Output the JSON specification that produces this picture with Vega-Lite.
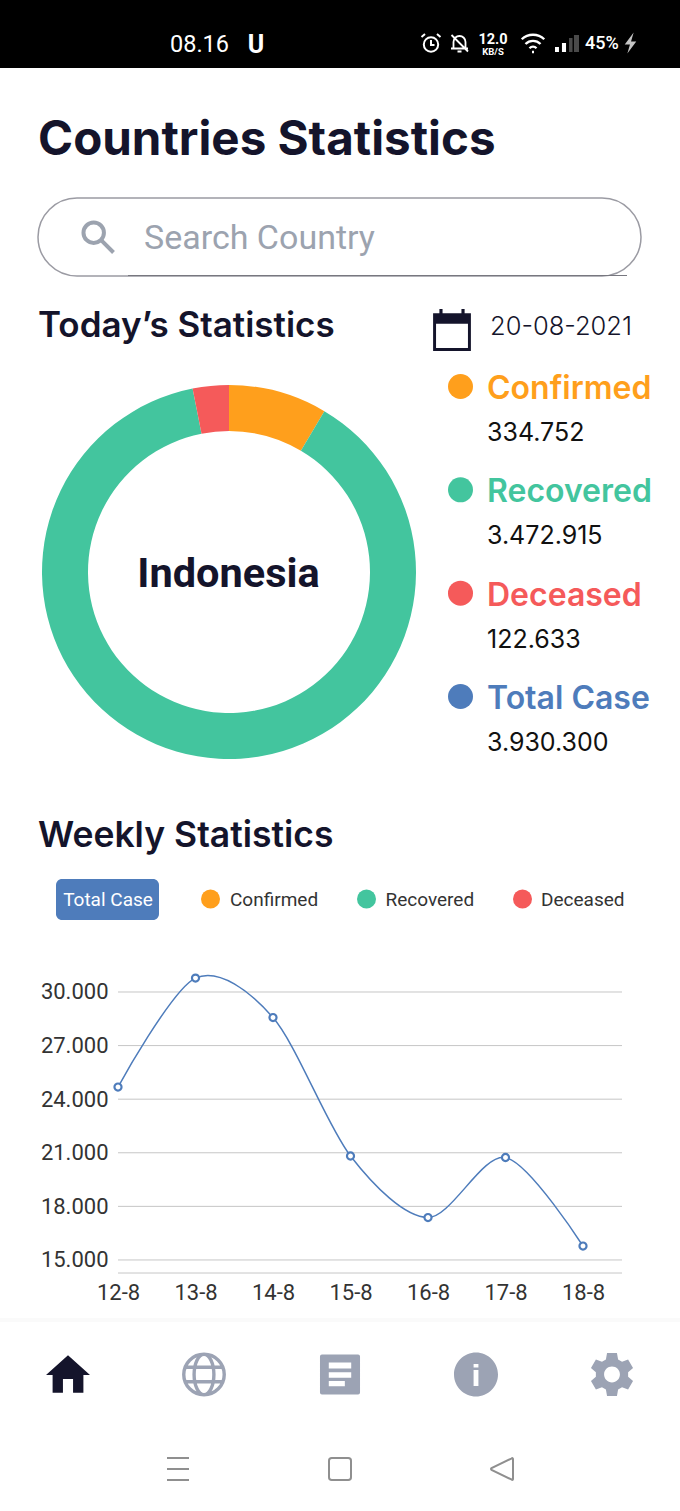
{
  "$schema": "https://vega.github.io/schema/vega-lite/v6.json",
  "width": 680,
  "height": 1511,
  "autosize": {"type": "fit", "contains": "padding"},
  "padding": 0,
  "background": "white",
  "datasets": {
    "stats": [
      {"status": "Confirmed", "count": 334752, "shown": "334.752", "rank": 1},
      {"status": "Recovered", "count": 3472915, "shown": "3.472.915", "rank": 2},
      {"status": "Deceased", "count": 122633, "shown": "122.633", "rank": 3},
      {"status": "Total Case", "count": 3930300, "shown": "3.930.300", "rank": 4}
    ],
    "weekly": [
      {"day": "12-8", "cases": 24680},
      {"day": "13-8", "cases": 30780},
      {"day": "14-8", "cases": 28570},
      {"day": "15-8", "cases": 20820},
      {"day": "16-8", "cases": 17376},
      {"day": "17-8", "cases": 20735},
      {"day": "18-8", "cases": 15780}
    ],
    "gridTicks": [
      {"tick": 14270}, {"tick": 15000}, {"tick": 18000}, {"tick": 21000},
      {"tick": 24000}, {"tick": 27000}, {"tick": 30000}
    ],
    "tabs": [{"tab": "Confirmed"}, {"tab": "Recovered"}, {"tab": "Deceased"}]
  },
  "layer": [
    {
      "data": {"values": [{"part": "status bar"}]},
      "mark": {"type": "rect", "color": "#000000"},
      "encoding": {
        "x": {"datum": 0, "type": "quantitative", "axis": null, "scale": {"domain": [0, 1], "range": [0, 680]}},
        "x2": {"datum": 1},
        "y": {"datum": 0, "type": "quantitative", "axis": null, "scale": {"domain": [0, 1], "range": [0, 68]}},
        "y2": {"datum": 1}
      }
    },
    {
      "data": {"values": [{"part": "nav shadow"}]},
      "mark": {"type": "rect", "color": "#fafafa"},
      "encoding": {
        "x": {"datum": 0, "type": "quantitative", "axis": null, "scale": {"domain": [0, 1], "range": [0, 680]}},
        "x2": {"datum": 1},
        "y": {"datum": 0, "type": "quantitative", "axis": null, "scale": {"domain": [0, 1], "range": [1318, 1322]}},
        "y2": {"datum": 1}
      }
    },
    {
      "data": {"values": [{"part": "search box"}]},
      "mark": {"type": "rect", "fill": "transparent", "stroke": "#9b9ba3", "strokeWidth": 1.5, "cornerRadius": 39},
      "encoding": {
        "x": {"datum": 0, "type": "quantitative", "axis": null, "scale": {"domain": [0, 1], "range": [38, 641]}},
        "x2": {"datum": 1},
        "y": {"datum": 0, "type": "quantitative", "axis": null, "scale": {"domain": [0, 1], "range": [198, 276]}},
        "y2": {"datum": 1}
      }
    },
    {
      "data": {"values": [{"part": "search underline"}]},
      "mark": {"type": "rule", "color": "#77777f", "strokeWidth": 1},
      "encoding": {
        "x": {"datum": 0, "type": "quantitative", "axis": null, "scale": {"domain": [0, 1], "range": [128, 627]}},
        "x2": {"datum": 1},
        "y": {"datum": 0, "type": "quantitative", "axis": null, "scale": {"domain": [0, 1], "range": [275.5, 275.5]}}
      }
    },
    {
      "data": {"values": [{"label": "08.16"}]},
      "mark": {"type": "text", "font": "Roboto", "fontSize": 23.5, "align": "left", "baseline": "middle", "color": "#ffffff"},
      "encoding": {
        "x": {"field": "label", "type": "nominal", "axis": null, "scale": {"type": "point", "range": [170, 170]}},
        "y": {"field": "label", "type": "nominal", "axis": null, "scale": {"type": "point", "range": [45, 45]}},
        "text": {"field": "label"}
      }
    },
    {
      "data": {"values": [{"label": "U"}]},
      "mark": {"type": "text", "font": "Roboto", "fontSize": 25, "fontWeight": 700, "align": "center", "baseline": "middle", "color": "#ffffff"},
      "encoding": {
        "x": {"field": "label", "type": "nominal", "axis": null, "scale": {"type": "point", "range": [256, 256]}},
        "y": {"field": "label", "type": "nominal", "axis": null, "scale": {"type": "point", "range": [45, 45]}},
        "text": {"field": "label"}
      }
    },
    {
      "data": {"values": [{"icon": "alarm"}]},
      "mark": {"type": "point", "filled": false, "color": "#ffffff", "strokeWidth": 2, "opacity": 1, "size": 400, "shape": "M-0.72 0.1 A0.72 0.72 0 1 1 0.72 0.1 A0.72 0.72 0 1 1 -0.72 0.1 Z M0 -0.35 V0.15 H0.35 M-0.95 -0.65 L-0.6 -0.95 M0.95 -0.65 L0.6 -0.95"},
      "encoding": {
        "x": {"field": "icon", "type": "nominal", "axis": null, "scale": {"type": "point", "range": [431, 431]}},
        "y": {"field": "icon", "type": "nominal", "axis": null, "scale": {"type": "point", "range": [43.5, 43.5]}}
      }
    },
    {
      "data": {"values": [{"icon": "bell"}]},
      "mark": {"type": "point", "filled": false, "color": "#ffffff", "strokeWidth": 1.8, "opacity": 1, "size": 400, "shape": "M-0.6 0.5 V-0.1 A0.6 0.6 0 0 1 0.6 -0.1 V0.5 M-0.85 0.55 H0.85 M-0.2 0.85 H0.2 M-0.8 -0.8 L0.85 0.85"},
      "encoding": {
        "x": {"field": "icon", "type": "nominal", "axis": null, "scale": {"type": "point", "range": [459.5, 459.5]}},
        "y": {"field": "icon", "type": "nominal", "axis": null, "scale": {"type": "point", "range": [43, 43]}}
      }
    },
    {
      "data": {"values": [{"label": "12.0"}]},
      "mark": {"type": "text", "font": "Roboto", "fontSize": 14.5, "fontWeight": 700, "align": "center", "baseline": "middle", "color": "#ffffff"},
      "encoding": {
        "x": {"field": "label", "type": "nominal", "axis": null, "scale": {"type": "point", "range": [493, 493]}},
        "y": {"field": "label", "type": "nominal", "axis": null, "scale": {"type": "point", "range": [39.5, 39.5]}},
        "text": {"field": "label"}
      }
    },
    {
      "data": {"values": [{"label": "KB/S"}]},
      "mark": {"type": "text", "font": "Roboto", "fontSize": 9.5, "fontWeight": 700, "align": "center", "baseline": "middle", "color": "#ffffff"},
      "encoding": {
        "x": {"field": "label", "type": "nominal", "axis": null, "scale": {"type": "point", "range": [493, 493]}},
        "y": {"field": "label", "type": "nominal", "axis": null, "scale": {"type": "point", "range": [51.5, 51.5]}},
        "text": {"field": "label"}
      }
    },
    {
      "data": {"values": [{"icon": "wifi"}]},
      "mark": {"type": "point", "filled": false, "color": "#ffffff", "strokeWidth": 2.4, "opacity": 1, "size": 625, "shape": "M-0.9 -0.3 A1.3 1.3 0 0 1 0.9 -0.3 M-0.6 0.08 A0.85 0.85 0 0 1 0.6 0.08 M-0.28 0.42 A0.4 0.4 0 0 1 0.28 0.42 M-0.08 0.72 H0.08"},
      "encoding": {
        "x": {"field": "icon", "type": "nominal", "axis": null, "scale": {"type": "point", "range": [533, 533]}},
        "y": {"field": "icon", "type": "nominal", "axis": null, "scale": {"type": "point", "range": [43, 43]}}
      }
    },
    {
      "data": {"values": [{"icon": "signal"}]},
      "mark": {"type": "point", "filled": true, "color": "#ffffff", "opacity": 1, "size": 576, "shape": "M-1 0.25 H-0.67 V0.67 H-1 Z M-0.42 -0.08 H-0.08 V0.67 H-0.42 Z"},
      "encoding": {
        "x": {"field": "icon", "type": "nominal", "axis": null, "scale": {"type": "point", "range": [567, 567]}},
        "y": {"field": "icon", "type": "nominal", "axis": null, "scale": {"type": "point", "range": [44, 44]}}
      }
    },
    {
      "data": {"values": [{"icon": "signal off"}]},
      "mark": {"type": "point", "filled": true, "color": "#4a4a4a", "opacity": 1, "size": 576, "shape": "M0.17 -0.5 H0.46 V0.67 H0.17 Z M0.58 -0.75 H1 V0.67 H0.58 Z"},
      "encoding": {
        "x": {"field": "icon", "type": "nominal", "axis": null, "scale": {"type": "point", "range": [567, 567]}},
        "y": {"field": "icon", "type": "nominal", "axis": null, "scale": {"type": "point", "range": [44, 44]}}
      }
    },
    {
      "data": {"values": [{"label": "45%"}]},
      "mark": {"type": "text", "font": "Roboto", "fontSize": 18, "fontWeight": 500, "align": "left", "baseline": "middle", "color": "#ffffff"},
      "encoding": {
        "x": {"field": "label", "type": "nominal", "axis": null, "scale": {"type": "point", "range": [585, 585]}},
        "y": {"field": "label", "type": "nominal", "axis": null, "scale": {"type": "point", "range": [44, 44]}},
        "text": {"field": "label"}
      }
    },
    {
      "data": {"values": [{"icon": "bolt"}]},
      "mark": {"type": "point", "filled": true, "color": "#c4c4c4", "opacity": 1, "size": 440, "shape": "M0.3 -1 L-0.55 0.15 H-0.05 L-0.3 1 L0.55 -0.15 H0.05 Z"},
      "encoding": {
        "x": {"field": "icon", "type": "nominal", "axis": null, "scale": {"type": "point", "range": [630.5, 630.5]}},
        "y": {"field": "icon", "type": "nominal", "axis": null, "scale": {"type": "point", "range": [43, 43]}}
      }
    },
    {
      "data": {"values": [{"label": "Countries Statistics"}]},
      "mark": {"type": "text", "font": "Inter", "fontSize": 47.5, "fontWeight": 700, "align": "left", "baseline": "middle", "color": "#14142b"},
      "encoding": {
        "x": {"field": "label", "type": "nominal", "axis": null, "scale": {"type": "point", "range": [38, 38]}},
        "y": {"field": "label", "type": "nominal", "axis": null, "scale": {"type": "point", "range": [141, 141]}},
        "text": {"field": "label"}
      }
    },
    {
      "data": {"values": [{"icon": "search"}]},
      "mark": {"type": "point", "filled": false, "color": "#9ca3af", "strokeWidth": 4, "opacity": 1, "size": 1089, "shape": "M-0.82 -0.2 A0.62 0.62 0 1 1 0.42 -0.2 A0.62 0.62 0 1 1 -0.82 -0.2 Z M0.25 0.25 L1 1"},
      "encoding": {
        "x": {"field": "icon", "type": "nominal", "axis": null, "scale": {"type": "point", "range": [97, 97]}},
        "y": {"field": "icon", "type": "nominal", "axis": null, "scale": {"type": "point", "range": [236, 236]}}
      }
    },
    {
      "data": {"values": [{"label": "Search Country"}]},
      "mark": {"type": "text", "font": "Roboto", "fontSize": 34, "align": "left", "baseline": "middle", "color": "#9ca3af"},
      "encoding": {
        "x": {"field": "label", "type": "nominal", "axis": null, "scale": {"type": "point", "range": [144, 144]}},
        "y": {"field": "label", "type": "nominal", "axis": null, "scale": {"type": "point", "range": [239, 239]}},
        "text": {"field": "label"}
      }
    },
    {
      "data": {"values": [{"label": "Today’s Statistics"}]},
      "mark": {"type": "text", "font": "Inter", "fontSize": 35, "fontWeight": 600, "align": "left", "baseline": "middle", "color": "#14142b"},
      "encoding": {
        "x": {"field": "label", "type": "nominal", "axis": null, "scale": {"type": "point", "range": [38, 38]}},
        "y": {"field": "label", "type": "nominal", "axis": null, "scale": {"type": "point", "range": [326, 326]}},
        "text": {"field": "label"}
      }
    },
    {
      "data": {"values": [{"icon": "calendar"}]},
      "mark": {"type": "point", "filled": true, "color": "#14142b", "opacity": 1, "size": 1764, "shape": "M-0.9 -0.8 H-0.6 V-1 H-0.45 V-0.8 H0.45 V-1 H0.6 V-0.8 H0.9 V1 H-0.9 Z M-0.76 -0.3 V0.86 H0.76 V-0.3 Z"},
      "encoding": {
        "x": {"field": "icon", "type": "nominal", "axis": null, "scale": {"type": "point", "range": [452, 452]}},
        "y": {"field": "icon", "type": "nominal", "axis": null, "scale": {"type": "point", "range": [330, 330]}}
      }
    },
    {
      "data": {"values": [{"label": "20-08-2021"}]},
      "mark": {"type": "text", "font": "Inter", "fontSize": 25.5, "fontWeight": 300, "align": "left", "baseline": "middle", "color": "#14142b"},
      "encoding": {
        "x": {"field": "label", "type": "nominal", "axis": null, "scale": {"type": "point", "range": [490, 490]}},
        "y": {"field": "label", "type": "nominal", "axis": null, "scale": {"type": "point", "range": [327, 327]}},
        "text": {"field": "label"}
      }
    },
    {
      "data": {"name": "stats"},
      "transform": [{"filter": "datum.status != 'Total Case'"}, {"calculate": "'Indonesia'", "as": "country"}],
      "mark": {"type": "arc", "radius": 187, "radius2": 141},
      "encoding": {
        "theta": {"field": "count", "type": "quantitative", "stack": true},
        "order": {"field": "rank", "type": "quantitative"},
        "x": {"field": "country", "type": "nominal", "axis": null, "scale": {"type": "point", "range": [229, 229]}},
        "y": {"field": "country", "type": "nominal", "axis": null, "scale": {"type": "point", "range": [572, 572]}},
        "color": {
          "field": "status",
          "type": "nominal",
          "legend": null,
          "scale": {"domain": ["Confirmed", "Recovered", "Deceased", "Total Case"], "range": ["#ff9f1c", "#43c59e", "#f55a5a", "#4e7cbb"]}
        }
      }
    },
    {
      "data": {"values": [{"country": "Indonesia"}]},
      "mark": {"type": "text", "font": "Roboto", "fontSize": 41.5, "fontWeight": 700, "align": "center", "baseline": "middle", "color": "#14142b"},
      "encoding": {
        "x": {"field": "country", "type": "nominal", "axis": null, "scale": {"type": "point", "range": [228.5, 228.5]}},
        "y": {"field": "country", "type": "nominal", "axis": null, "scale": {"type": "point", "range": [575, 575]}},
        "text": {"field": "country"}
      }
    },
    {
      "data": {"name": "stats"},
      "transform": [{"calculate": "'legend'", "as": "column"}],
      "mark": {"type": "point", "filled": true, "opacity": 1, "size": 625},
      "encoding": {
        "x": {"field": "column", "type": "nominal", "axis": null, "scale": {"type": "point", "range": [460.5, 460.5]}},
        "y": {"field": "status", "type": "nominal", "axis": null, "sort": null, "scale": {"type": "point", "domain": ["Confirmed", "Recovered", "Deceased", "Total Case"], "range": [386.5, 696.5], "padding": 0}},
        "color": {
          "field": "status",
          "type": "nominal",
          "legend": null,
          "scale": {"domain": ["Confirmed", "Recovered", "Deceased", "Total Case"], "range": ["#ff9f1c", "#43c59e", "#f55a5a", "#4e7cbb"]}
        }
      }
    },
    {
      "data": {"name": "stats"},
      "transform": [{"calculate": "'legend'", "as": "column"}],
      "mark": {"type": "text", "font": "Inter", "fontSize": 32, "fontWeight": 600, "align": "left", "baseline": "middle"},
      "encoding": {
        "x": {"field": "column", "type": "nominal", "axis": null, "scale": {"type": "point", "range": [487, 487]}},
        "y": {"field": "status", "type": "nominal", "axis": null, "sort": null, "scale": {"type": "point", "domain": ["Confirmed", "Recovered", "Deceased", "Total Case"], "range": [389, 699], "padding": 0}},
        "text": {"field": "status"},
        "color": {
          "field": "status",
          "type": "nominal",
          "legend": null,
          "scale": {"domain": ["Confirmed", "Recovered", "Deceased", "Total Case"], "range": ["#ff9f1c", "#43c59e", "#f55a5a", "#4e7cbb"]}
        }
      }
    },
    {
      "data": {"name": "stats"},
      "transform": [{"calculate": "'legend'", "as": "column"}],
      "mark": {"type": "text", "font": "Inter", "fontSize": 25, "fontWeight": 400, "align": "left", "baseline": "middle", "color": "#111111"},
      "encoding": {
        "x": {"field": "column", "type": "nominal", "axis": null, "scale": {"type": "point", "range": [487, 487]}},
        "y": {"field": "status", "type": "nominal", "axis": null, "sort": null, "scale": {"type": "point", "domain": ["Confirmed", "Recovered", "Deceased", "Total Case"], "range": [433, 743], "padding": 0}},
        "text": {"field": "shown"}
      }
    },
    {
      "data": {"values": [{"label": "Weekly Statistics"}]},
      "mark": {"type": "text", "font": "Inter", "fontSize": 35.5, "fontWeight": 600, "align": "left", "baseline": "middle", "color": "#14142b"},
      "encoding": {
        "x": {"field": "label", "type": "nominal", "axis": null, "scale": {"type": "point", "range": [38, 38]}},
        "y": {"field": "label", "type": "nominal", "axis": null, "scale": {"type": "point", "range": [836, 836]}},
        "text": {"field": "label"}
      }
    },
    {
      "data": {"values": [{"part": "active tab"}]},
      "mark": {"type": "rect", "color": "#4e7cbb", "cornerRadius": 6},
      "encoding": {
        "x": {"datum": 0, "type": "quantitative", "axis": null, "scale": {"domain": [0, 1], "range": [56, 159]}},
        "x2": {"datum": 1},
        "y": {"datum": 0, "type": "quantitative", "axis": null, "scale": {"domain": [0, 1], "range": [879, 920]}},
        "y2": {"datum": 1}
      }
    },
    {
      "data": {"values": [{"label": "Total Case"}]},
      "mark": {"type": "text", "font": "Roboto", "fontSize": 19, "align": "center", "baseline": "middle", "color": "#ffffff"},
      "encoding": {
        "x": {"field": "label", "type": "nominal", "axis": null, "scale": {"type": "point", "range": [108, 108]}},
        "y": {"field": "label", "type": "nominal", "axis": null, "scale": {"type": "point", "range": [900, 900]}},
        "text": {"field": "label"}
      }
    },
    {
      "data": {"name": "tabs"},
      "transform": [{"calculate": "'row'", "as": "row"}],
      "mark": {"type": "point", "filled": true, "opacity": 1, "size": 361},
      "encoding": {
        "x": {"field": "tab", "type": "nominal", "axis": null, "sort": null, "scale": {"type": "point", "domain": ["Confirmed", "Recovered", "Deceased"], "range": [210.5, 522.5], "padding": 0}},
        "y": {"field": "row", "type": "nominal", "axis": null, "scale": {"type": "point", "range": [899, 899]}},
        "color": {
          "field": "tab",
          "type": "nominal",
          "legend": null,
          "scale": {"domain": ["Confirmed", "Recovered", "Deceased"], "range": ["#ff9f1c", "#43c59e", "#f55a5a"]}
        }
      }
    },
    {
      "data": {"name": "tabs"},
      "transform": [{"calculate": "'row'", "as": "row"}],
      "mark": {"type": "text", "font": "Roboto", "fontSize": 19, "align": "left", "baseline": "middle", "color": "#333333"},
      "encoding": {
        "x": {"field": "tab", "type": "nominal", "axis": null, "sort": null, "scale": {"type": "point", "domain": ["Confirmed", "Recovered", "Deceased"], "range": [230, 541], "padding": 0}},
        "y": {"field": "row", "type": "nominal", "axis": null, "scale": {"type": "point", "range": [900, 900]}},
        "text": {"field": "tab"}
      }
    },
    {
      "data": {"name": "gridTicks"},
      "mark": {"type": "rule", "color": "#c6c6c6", "strokeWidth": 1},
      "encoding": {
        "x": {"datum": 0, "type": "quantitative", "axis": null, "scale": {"domain": [0, 1], "range": [118, 622]}},
        "x2": {"datum": 1},
        "y": {"field": "tick", "type": "quantitative", "axis": null, "scale": {"domain": [14270, 31500], "range": [1273, 965.2], "nice": false, "zero": false}}
      }
    },
    {
      "data": {"name": "weekly"},
      "mark": {"type": "line", "interpolate": "cardinal", "tension": 0.1, "color": "#4e7cbb", "strokeWidth": 1.5},
      "encoding": {
        "x": {
          "field": "day",
          "type": "nominal",
          "sort": null,
          "scale": {"type": "point", "range": [118, 583], "padding": 0},
          "axis": {"title": null, "orient": "bottom", "offset": -238, "ticks": false, "domain": false, "grid": false, "labelAngle": 0, "labelFont": "Roboto", "labelFontSize": 22, "labelColor": "#333333", "labelPadding": 9}
        },
        "y": {
          "field": "cases",
          "type": "quantitative",
          "scale": {"domain": [14270, 31500], "range": [1273, 965.2], "nice": false, "zero": false},
          "axis": {"title": null, "orient": "left", "offset": -118, "ticks": false, "domain": false, "grid": false, "values": [15000, 18000, 21000, 24000, 27000, 30000], "labelExpr": "replace(format(datum.value, ','), ',', '.')", "labelFont": "Roboto", "labelFontSize": 22, "labelColor": "#333333", "labelPadding": 10}
        }
      }
    },
    {
      "data": {"name": "weekly"},
      "mark": {"type": "point", "filled": true, "fill": "#ffffff", "stroke": "#4e7cbb", "strokeWidth": 2.2, "opacity": 1, "size": 50},
      "encoding": {
        "x": {"field": "day", "type": "nominal", "sort": null, "axis": null, "scale": {"type": "point", "range": [118, 583], "padding": 0}},
        "y": {"field": "cases", "type": "quantitative", "axis": null, "scale": {"domain": [14270, 31500], "range": [1273, 965.2], "nice": false, "zero": false}}
      }
    },
    {
      "data": {"values": [{"icon": "home"}, {"icon": "news"}, {"icon": "info"}, {"icon": "settings"}]},
      "transform": [{"calculate": "'row'", "as": "row"}],
      "mark": {"type": "point", "filled": true, "opacity": 1, "size": 1936},
      "encoding": {
        "x": {"field": "icon", "type": "nominal", "axis": null, "sort": null, "scale": {"type": "point", "domain": ["home", "globe", "news", "info", "settings"], "range": [68, 612], "padding": 0}},
        "y": {"field": "row", "type": "nominal", "axis": null, "scale": {"type": "point", "range": [1374.5, 1374.5]}},
        "color": {
          "field": "icon",
          "type": "nominal",
          "legend": null,
          "scale": {"domain": ["home", "news", "info", "settings"], "range": ["#14142b", "#9ca3b4", "#9ca3b4", "#9ca3b4"]}
        },
        "shape": {
          "field": "icon",
          "type": "nominal",
          "legend": null,
          "scale": {
            "domain": ["home", "news", "info", "settings"],
            "range": [
              "M0 -0.87 L1 0.02 H0.7 V0.83 H0.23 V0.2 H-0.23 V0.83 H-0.7 V0.02 H-1 Z",
              "M-0.82 -0.91 H0.82 Q0.91 -0.91 0.91 -0.82 V0.82 Q0.91 0.91 0.82 0.91 H-0.82 Q-0.91 0.91 -0.91 0.82 V-0.82 Q-0.91 -0.91 -0.82 -0.91 Z M-0.51 -0.55 V-0.27 H0.51 V-0.55 Z M-0.51 -0.1 V0.15 H0.51 V-0.1 Z M-0.51 0.3 V0.53 H0.22 V0.3 Z",
              "M-1 0 A1 1 0 1 1 1 0 A1 1 0 1 1 -1 0 Z M-0.11 -0.2 V0.52 H0.11 V-0.2 Z M-0.11 -0.48 V-0.32 H0.11 V-0.48 Z",
              "M-0.225 -0.974 L0.225 -0.974 L0.277 -0.686 L0.456 -0.583 L0.731 -0.682 L0.956 -0.292 L0.733 -0.103 L0.733 0.103 L0.956 0.292 L0.731 0.682 L0.456 0.583 L0.277 0.686 L0.225 0.974 L-0.225 0.974 L-0.277 0.686 L-0.456 0.583 L-0.731 0.682 L-0.956 0.292 L-0.733 0.103 L-0.733 -0.103 L-0.956 -0.292 L-0.731 -0.682 L-0.456 -0.583 L-0.277 -0.686 Z M-0.36 0 A0.36 0.36 0 1 0 0.36 0 A0.36 0.36 0 1 0 -0.36 0 Z"
            ]
          }
        }
      }
    },
    {
      "data": {"values": [{"icon": "globe"}]},
      "mark": {"type": "point", "filled": false, "color": "#9ca3b4", "strokeWidth": 3.4, "opacity": 1, "size": 1936, "shape": "M-0.92 0 A0.92 0.92 0 1 1 0.92 0 A0.92 0.92 0 1 1 -0.92 0 Z M0 -0.92 A0.45 0.92 0 0 1 0 0.92 A0.45 0.92 0 0 1 0 -0.92 Z M-0.85 -0.33 H0.85 M-0.85 0.33 H0.85"},
      "encoding": {
        "x": {"field": "icon", "type": "nominal", "axis": null, "scale": {"type": "point", "range": [204, 204]}},
        "y": {"field": "icon", "type": "nominal", "axis": null, "scale": {"type": "point", "range": [1374.5, 1374.5]}}
      }
    },
    {
      "data": {"values": [{"key": "menu"}, {"key": "home"}, {"key": "back"}]},
      "transform": [{"calculate": "'row'", "as": "row"}],
      "mark": {"type": "point", "filled": false, "color": "#8f8f8f", "strokeWidth": 2, "opacity": 1, "size": 484},
      "encoding": {
        "x": {"field": "key", "type": "nominal", "axis": null, "sort": null, "scale": {"type": "point", "domain": ["menu", "home", "back"], "range": [178, 502], "padding": 0}},
        "y": {"field": "row", "type": "nominal", "axis": null, "scale": {"type": "point", "range": [1469, 1469]}},
        "shape": {
          "field": "key",
          "type": "nominal",
          "legend": null,
          "scale": {
            "domain": ["menu", "home", "back"],
            "range": [
              "M-1 -1 H1 M-1 0 H1 M-1 1 H1",
              "M-0.75 -1 H0.75 Q1 -1 1 -0.75 V0.75 Q1 1 0.75 1 H-0.75 Q-1 1 -1 0.75 V-0.75 Q-1 -1 -0.75 -1 Z",
              "M1 -0.9 V0.9 Q1 1.05 0.85 0.95 L-0.95 0.08 Q-1.05 0 -0.95 -0.08 L0.85 -0.95 Q1 -1.05 1 -0.9 Z"
            ]
          }
        }
      }
    }
  ],
  "resolve": {
    "scale": {"x": "independent", "y": "independent", "color": "independent", "shape": "independent"},
    "axis": {"x": "independent", "y": "independent"}
  },
  "config": {"view": {"stroke": null}}
}
